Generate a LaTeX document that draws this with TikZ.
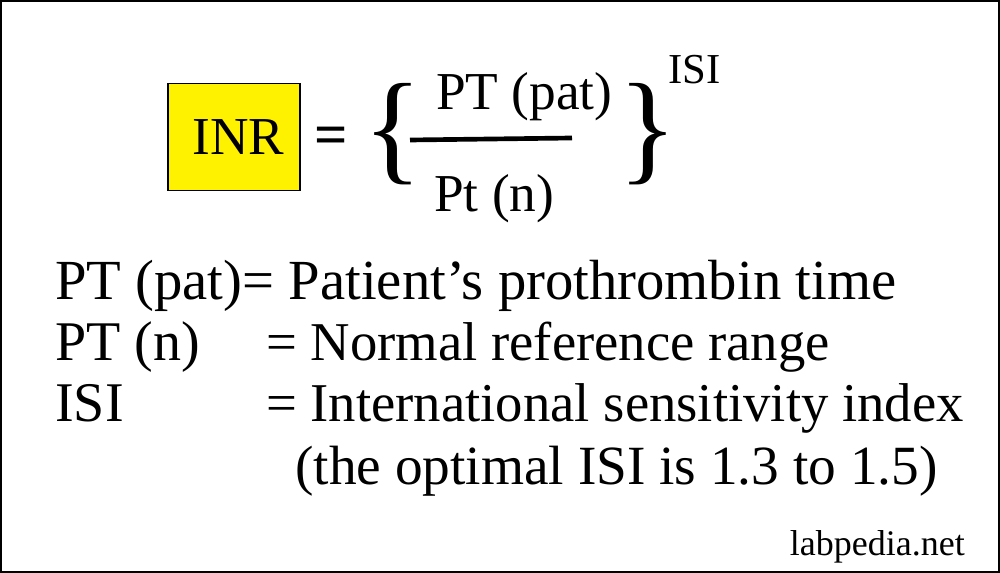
\documentclass[tikz,border=0pt]{standalone}
\usepackage{fontspec}
\setmainfont{Liberation Serif}
\begin{document}
\begin{tikzpicture}[x=0.75pt,y=-0.75pt,
  txt/.style={inner sep=0pt,anchor=base west,font=\fontsize{42}{46}\selectfont},
  brace/.style={inner sep=0pt,font=\fontsize{92}{92}\selectfont}]
\useasboundingbox (0,0) rectangle (1000,573);
\draw[line width=1.5pt] (1,1) rectangle (999,572);
\node[draw=black,fill=yellow,line width=0.8pt,minimum width=99pt,minimum height=80pt,inner sep=0pt,font=\fontsize{40}{44}\selectfont] (inr) at (234,137) {\,INR};
\node[txt,font=\fontsize{44}{46}\bfseries\selectfont] (eq) at (314,155) {=};
\node[brace,anchor=center] (lb) at (393,134) {\{};
\node[brace,anchor=center] (rb) at (648,134) {\}};
\coordinate (fl) at (410,140);
\coordinate (fr) at (572,138);
\draw[line width=3.5pt] (fl) -- (fr);
\node[txt,font=\fontsize{40}{44}\selectfont] (num) at (436,110) {PT (pat)};
\node[txt,font=\fontsize{40}{44}\selectfont] (den) at (434,212) {Pt (n)};
\node[txt,font=\fontsize{32}{34}\selectfont] (isi) at (668,84) {ISI};
\node[txt,font=\fontsize{42.5}{46}\selectfont] (l1) at (55,300) {PT (pat)= Patient’s prothrombin time};
\node[txt] (l2a) at (55,361) {PT (n)};
\node[txt,font=\fontsize{41}{46}\selectfont] (l2b) at (266,361) {= Normal reference range};
\node[txt] (l3a) at (55,422) {ISI};
\node[txt,font=\fontsize{41}{46}\selectfont] (l3b) at (266,422) {= International sensitivity index};
\node[txt,font=\fontsize{41.5}{46}\selectfont] (l4) at (295,485) {(the optimal ISI is 1.3 to 1.5)};
\node[inner sep=0pt,anchor=base east,font=\fontsize{27}{29}\selectfont] (lab) at (965,555) {labpedia.net};
\end{tikzpicture}
\end{document}
